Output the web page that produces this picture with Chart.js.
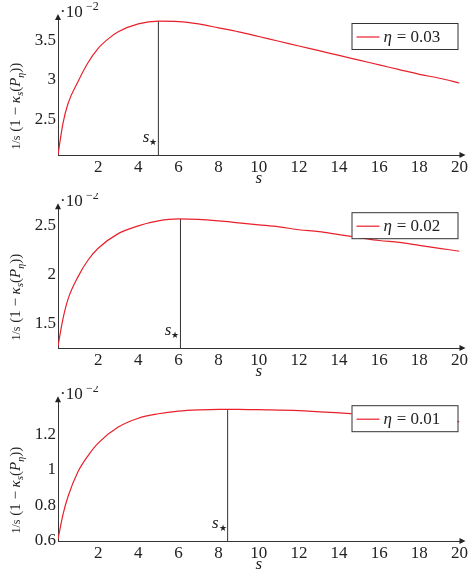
<!DOCTYPE html>
<html><head><meta charset="utf-8">
<script src="https://cdn.jsdelivr.net/npm/chart.js@4"></script>
<style>body{margin:0;background:#fff}.c{position:absolute;left:0;width:474px;height:193px}</style>
</head><body>
<div class="c" style="top:0"><canvas id="c1"></canvas></div>
<div class="c" style="top:193px"><canvas id="c2"></canvas></div>
<div class="c" style="top:386px"><canvas id="c3"></canvas></div>
<script>
const xTicks=[2,4,6,8,10,12,14,16,18,20];
const s1=[0,0.25,0.5,1,1.5,2,2.5,3,4,5,6,7,8,9,10,11,12,13,14,15,16,17,18,19,20];
const v1=[2.05,2.45,2.7,2.98,3.22,3.40,3.52,3.61,3.71,3.745,3.74,3.71,3.66,3.61,3.55,3.49,3.43,3.37,3.31,3.25,3.19,3.13,3.07,3.02,2.96];
const s2=[0,0.25,0.5,1,1.5,2,3,4,5,6,7,8,9,10,11,12,13,14,15,16,17,18,19,20];
const v2=[1.27,1.55,1.75,1.98,2.15,2.27,2.42,2.50,2.55,2.57,2.565,2.55,2.53,2.51,2.49,2.46,2.44,2.41,2.38,2.35,2.33,2.30,2.27,2.24];
const s3=[0,0.25,0.5,1,1.5,2,3,4,5,6,7,8,9,10,12,14,16,18,20];
const v3=[0.61,0.75,0.85,0.99,1.08,1.15,1.24,1.29,1.315,1.33,1.337,1.34,1.34,1.338,1.333,1.32,1.305,1.29,1.27];
const yTicks1=[2.5,3,3.5], yTicks2=[1.5,2,2.5], yTicks3=[0.6,0.8,1,1.2];
const sStar=[5,6.1,8.45];
const etas=['0.03','0.02','0.01'];
const F='"Liberation Serif", serif';
function make(id,s,v,yt,ymin,ymax,star,eta,top){
  const peak=Math.max(...v);
  new Chart(document.getElementById(id),{
    type:'scatter',
    data:{datasets:[
      {data:s.map((x,i)=>({x,y:v[i]})),showLine:true,borderColor:'#e8202a',borderWidth:1.2,pointRadius:0,cubicInterpolationMode:'monotone'},
      {data:[{x:star,y:ymin},{x:star,y:peak}],showLine:true,borderColor:'#333',borderWidth:1,pointRadius:0}
    ]},
    options:{responsive:true,maintainAspectRatio:false,animation:false,
      layout:{padding:{top:top,right:3,left:0,bottom:0}},
      plugins:{legend:{display:false},tooltip:{enabled:false}},
      scales:{
        x:{type:'linear',min:0,max:20,afterBuildTicks:a=>{a.ticks=xTicks.map(t=>({value:t}))},
          afterFit:a=>{a.height=38},
          grid:{display:false,tickLength:-4,tickColor:'#444'},border:{color:'#333'},
          ticks:{color:'#222',font:{family:F,size:17},padding:6,maxRotation:0,callback:(val)=>String(val)},
          title:{display:true,text:'s',color:'#222',font:{family:F,size:17,style:'italic'},padding:{top:-6}}},
        y:{min:ymin,max:ymax,afterBuildTicks:a=>{a.ticks=yt.map(t=>({value:t}))},
          afterFit:a=>{a.width=58},
          grid:{display:false,tickLength:-4,tickColor:'#444'},border:{color:'#333'},
          ticks:{color:'#222',font:{family:F,size:17},padding:6,callback:v=>String(v)}}
      }},
    plugins:[{id:'deco',afterDraw(c){
      const g=c.ctx,a=c.chartArea;
      g.save();g.fillStyle='#222';g.strokeStyle='#333';g.textAlign='left';
      g.beginPath();g.moveTo(a.left,a.top-6);g.lineTo(a.left-3,a.top);g.lineTo(a.left+3,a.top);g.fill();
      g.beginPath();g.moveTo(a.right+6,a.bottom);g.lineTo(a.right,a.bottom-3);g.lineTo(a.right,a.bottom+3);g.fill();
      g.font='17px '+F;g.textBaseline='alphabetic';
      g.fillText('·10',a.left+2,a.top-3);
      g.font='12px '+F;g.fillText('−2',a.left+28,a.top-10);
      const xp=c.scales.x.getPixelForValue(star);
      g.font='italic 17px '+F;g.textAlign='right';g.fillText('s',xp-9,a.bottom-13);
      g.font='9px '+F;g.textAlign='left';g.fillText('★',xp-9,a.bottom-10);
      const lx=a.right-108,ly=a.top+3,lw=106,lh=26;
      g.fillStyle='#fff';g.fillRect(lx,ly,lw,lh);g.strokeStyle='#333';g.lineWidth=1;g.strokeRect(lx+0.5,ly+0.5,lw,lh);
      g.strokeStyle='#e8202a';g.lineWidth=1.2;g.beginPath();g.moveTo(lx+5,ly+14);g.lineTo(lx+28,ly+14);g.stroke();
      g.fillStyle='#222';g.font='italic 17px '+F;g.fillText('η',lx+32,ly+19);
      g.font='17px '+F;g.fillText(' = '+eta,lx+41,ly+19);
      g.translate(20,(a.top+a.bottom)/2);g.rotate(-Math.PI/2);
      let x=-62;
      const seg=(t,f,dy)=>{g.font=f;g.fillText(t,x,dy);x+=g.measureText(t).width;};
      seg('1/s','12px '+F,0);seg(' (1 − ','15px '+F,0);seg('κ','italic 15px '+F,0);
      seg('s','italic 11px '+F,3);seg('(','15px '+F,0);seg('P','italic 15px '+F,0);
      seg('η','italic 10px '+F,4);seg('))','15px '+F,0);
      g.restore();
    }}]
  });
}
make('c1',s1,v1,yTicks1,2.045,3.76,sStar[0],etas[0],20);
make('c2',s2,v2,yTicks2,1.25,2.67,sStar[1],etas[1],12);
make('c3',s3,v3,yTicks3,0.6,1.38,sStar[2],etas[2],9);
</script>
</body></html>
